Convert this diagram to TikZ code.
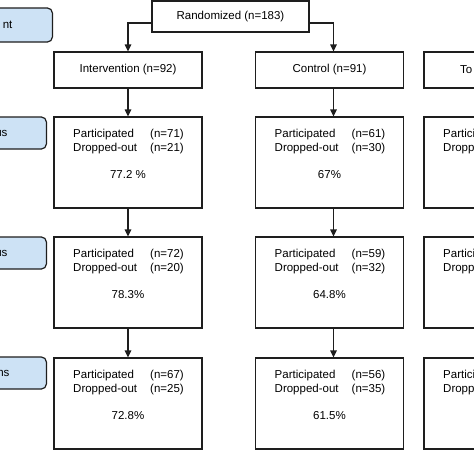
\documentclass[tikz,border=0pt]{standalone}
\usepackage{fontspec}
\setmainfont{Liberation Sans}
\usetikzlibrary{arrows.meta}
\definecolor{stageblue}{RGB}{205,226,245}
\definecolor{boxline}{RGB}{30,30,30}
\tikzset{
	armbox/.style={draw=boxline,line width=1.2pt,minimum width=148pt,minimum height=91pt,inner sep=0pt},
	topbox/.style={armbox,minimum height=36pt,font=\fontsize{11.5}{14}\selectfont},
	armtext/.style={anchor=base west,inner sep=0pt,font=\fontsize{11.5}{14}\selectfont},
	stagebox/.style={draw=boxline,fill=stageblue,line width=1.2pt,rounded corners=5pt,anchor=east,
		minimum height=32pt,inner xsep=39pt,font=\fontsize{11.5}{14}\selectfont},
	flow/.style={draw=boxline,line width=1.2pt,-{Triangle[length=7pt,width=6.5pt]}}
}
\newcommand{\armrow}[6]{% #1: name, #2: x centre, #3: y top, #4: participated, #5: dropped-out, #6: rate
	\node[armbox] (#1) at (#2,#3+45.5) {};
	\node[armtext] (#1-p) at (#2-55,#3+20.3) {Participated};
	\node[armtext] (#1-pn) at (#2+22,#3+20.3) {(n=#4)};
	\node[armtext] (#1-d) at (#2-55,#3+34.3) {Dropped-out};
	\node[armtext] (#1-dn) at (#2+22,#3+34.3) {(n=#5)};
	\node[armtext,anchor=base] (#1-r) at (#2,#3+61.7) {#6};
}
\begin{document}
\begin{tikzpicture}[x=1pt,y=-1pt]
	\useasboundingbox (0,0) rectangle (474,474);
	\fill[white] (0,0) rectangle (474,474);
	\clip (0,0) rectangle (474,474);

	% Stages on the left
	\node[stagebox,minimum height=34pt,inner xsep=40pt] (s1) at (53,25) {nt};
	\node[stagebox] (s2) at (47,133) {us};
	\node[stagebox] (s3) at (47,253) {us};
	\node[stagebox,inner xsep=37pt] (s4) at (47,373) {ns};

	% Randomization and groups
	\node[armbox,minimum width=157pt,minimum height=31pt,font=\fontsize{11.5}{14}\selectfont] (rand) at (230.5,16.5) {Randomized (n=183)};
	\node[topbox] (int) at (128,70) {Intervention (n=92)};
	\node[topbox] (ctl) at (329.5,70) {Control (n=91)};
	\node[topbox] (tot) at (498,70) {};
	\node[armtext,anchor=west] (tot-t) at (460,70) {To};

	% Intervention arm
	\armrow{i2}{128}{117}{71}{21}{77.2 \%}
	\armrow{i3}{128}{237}{72}{20}{78.3\%}
	\armrow{i4}{128}{358}{67}{25}{72.8\%}

	% Control arm
	\armrow{c2}{329.5}{117}{61}{30}{67\%}
	\armrow{c3}{329.5}{237}{59}{32}{64.8\%}
	\armrow{c4}{329.5}{358}{56}{35}{61.5\%}

	% Third column (cut by the frame)
	\foreach \r/\y in {2/117,3/237,4/358}{
		\node[armbox] (t\r) at (498,\y+45.5) {};
		\node[armtext] (t\r-p) at (443,\y+20.3) {Participated};
		\node[armtext] (t\r-d) at (443,\y+34.3) {Dropped-out};
	}

	% Arrows
	\draw[flow] ([yshift=-6.5pt]rand.west) -| (int.north);
	\draw[flow] ([yshift=-6.5pt]rand.east) -| ([xshift=4pt]ctl.north);
	\draw[flow] (int.south) -- (i2.north);
	\draw[flow] (i2.south) -- (i3.north);
	\draw[flow] (i3.south) -- (i4.north);
	\draw[flow] ([xshift=4pt]ctl.south) -- ([xshift=4pt]c2.north);
	\draw[flow] ([xshift=4pt]c2.south) -- ([xshift=4pt]c3.north);
	\draw[flow] ([xshift=4pt]c3.south) -- ([xshift=4pt]c4.north);
\end{tikzpicture}
\end{document}
